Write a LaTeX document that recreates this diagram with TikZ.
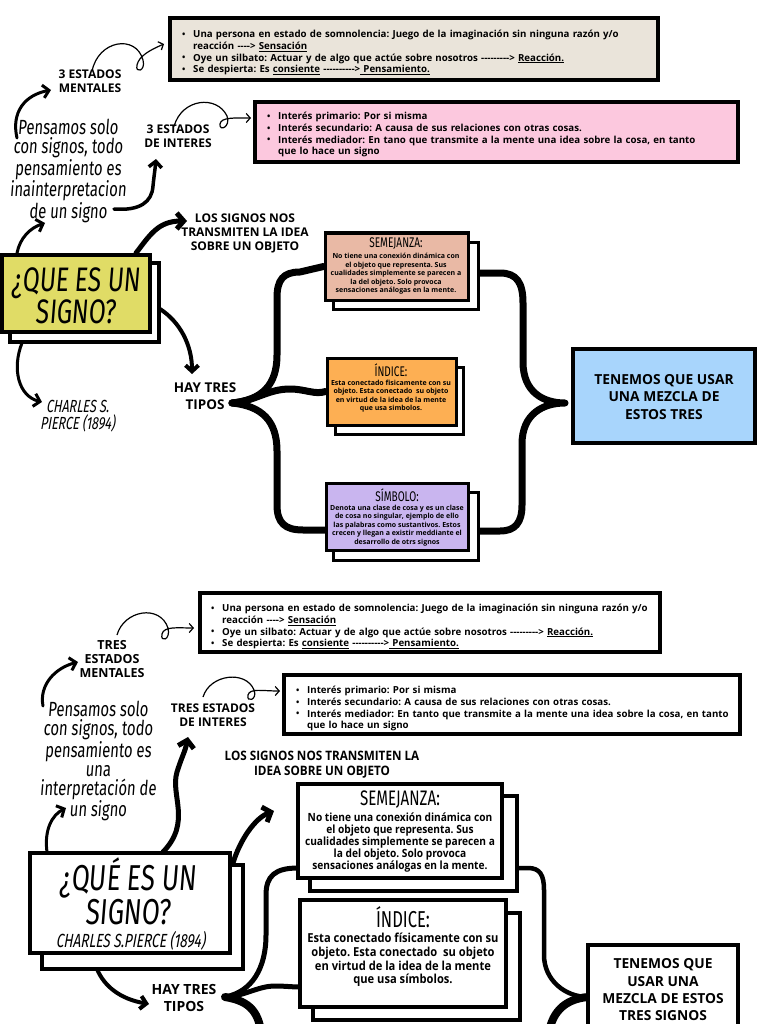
\documentclass[tikz,border=0pt]{standalone}
\usepackage{fontspec}
\setmainfont{Open Sans}
\newfontfamily\condfont[FakeStretch=0.9]{Open Sans}
\newfontfamily\hand[FakeStretch=0.72,FakeSlant=0.08]{Fira Sans}
\newfontfamily\handup[FakeStretch=0.72]{Fira Sans}
\usetikzlibrary{arrows.meta,calc}
\pgfdeclarelayer{bg}
\pgfsetlayers{bg,main}
\definecolor{beige}{HTML}{EAE4DA}
\definecolor{pinkc}{HTML}{FCC8DE}
\definecolor{yellowc}{HTML}{E0DC66}
\definecolor{salmon}{HTML}{E9B9A5}
\definecolor{orangec}{HTML}{FDAF53}
\definecolor{lavender}{HTML}{C9B5EF}
\definecolor{bluec}{HTML}{A8D5FC}
\newcommand\blt[1]{\par\noindent\makebox[11pt][l]{\raisebox{0.05ex}{\scalebox{0.9}{\textbullet}}}#1}
\newcommand\cnt[1]{\par\noindent\hspace*{11pt}#1}
\newcommand\hh{\mbox{-}}
\frenchspacing
\begin{document}
\begin{tikzpicture}[x=1pt,y=-1pt,
  box/.style={draw, line width=3pt, inner sep=0pt},
  bigbox/.style={draw, line width=4pt, inner sep=0pt},
  listtxt/.style={font=\frenchspacing\fontsize{9.7}{11.8}\selectfont\bfseries, text width=560pt, align=left, inner sep=0pt, anchor=west},
  lbl/.style={font=\frenchspacing\fontsize{12}{14}\selectfont\bfseries, align=center, inner sep=0pt},
  handtxt/.style={font=\hand\fontsize{20.5}{19}\selectfont, align=center, inner sep=0pt},
  ttl/.style={font=\handup\fontsize{14}{14}\selectfont, inner sep=0pt},
  body/.style={font=\frenchspacing\fontsize{7}{8.5}\selectfont\bfseries, align=center, inner sep=0pt},
  cbody/.style={font=\frenchspacing\condfont\fontsize{11.3}{12}\selectfont\bfseries, align=center, inner sep=0pt},
  arr/.style={line width=3pt, line cap=round, -{Straight Barb[length=6pt,width=13pt]}},
  thickarr/.style={line width=5pt, line cap=round, -{Straight Barb[length=7pt,width=16pt]}},
  looparr/.style={line width=1.2pt, -{Straight Barb[length=4pt,width=9pt]}},
  brace/.style={line width=7pt, line cap=round, line join=round},
]
\useasboundingbox (0,0) rectangle (768,1024);
\clip (0,0) rectangle (768,1024);

% ================= TOP HALF =================
\node[bigbox, fill=beige, minimum width=488pt, minimum height=62pt] (topbox) at (414,49) {};
\node[listtxt] (toptxt) at (182,50.5) {%
\blt{Una persona en estado de somnolencia: Juego de la imaginación sin ninguna razón y/o}
\cnt{reacción \hh\hh\hh\hh> \underline{Sensación}}
\blt{Oye un silbato: Actuar y de algo que actúe sobre nosotros \hh\hh\hh\hh\hh\hh\hh\hh\hh> \underline{Reacción.}}
\blt{Se despierta: Es \underline{consiente} \hh\hh\hh\hh\hh\hh\hh\hh\hh\hh>\underline{ Pensamiento.}}};

\node[bigbox, fill=pinkc, minimum width=483pt, minimum height=60pt] (pinkbox) at (496.5,132) {};
\node[listtxt] (pinktxt) at (267,132.5) {%
\blt{Interés primario: Por si misma}
\blt{Interés secundario: A causa de sus relaciones con otras cosas.}
\blt{Interés mediador: En tano que transmite a la mente una idea sobre la cosa, en tanto}
\cnt{que lo hace un signo}};

\node[lbl] (mentales) at (90,81) {3 ESTADOS\\MENTALES};
\node[lbl] (interes) at (178,136) {3 ESTADOS\\DE INTERES};
\node[handtxt] (pensamos) at (68,171) {Pensamos solo\\con signos, todo\\pensamiento es\\inainterpretacion\\de un signo};

\node[bigbox, fill=white, minimum width=149pt, minimum height=79pt] (signosh) at (84.5,302.5) {};
\node[bigbox, fill=yellowc, minimum width=148pt, minimum height=77pt] (signo) at (76,293.5) {};
\node[font=\hand\fontsize{34}{31}\selectfont, align=center, inner sep=0pt] (signotxt) at (76,296) {¿QUE ES UN\\SIGNO?};

\node[font=\hand\itshape\fontsize{17.5}{17.5}\selectfont, align=center, inner sep=0pt] (charles) at (78,416) {CHARLES S.\\PIERCE (1894)};
\node[lbl] (signos) at (245,233) {LOS SIGNOS NOS\\TRANSMITEN LA IDEA\\SOBRE UN OBJETO};
\node[font=\frenchspacing\fontsize{13.5}{17}\selectfont\bfseries, align=center, inner sep=0pt] (tipos) at (205,396) {HAY TRES\\TIPOS};

\node[box, fill=white, minimum width=145pt, minimum height=67pt] (semsh) at (405.5,275.5) {};
\node[box, fill=salmon, minimum width=143pt, minimum height=67pt] (sem) at (396.5,266.5) {};
\node[ttl] (semt) at (396,243.5) {SEMEJANZA:};
\node[body] (semb) at (396,274) {No tiene una conexión dinámica con\\el objeto que representa. Sus\\cualidades simplemente se parecen a\\la del objeto. Solo provoca\\sensaciones análogas en la mente.};

\node[box, fill=white, minimum width=128pt, minimum height=67pt] (indsh) at (399,400.5) {};
\node[box, fill=orangec, minimum width=129pt, minimum height=67pt] (ind) at (391.5,391.5) {};
\node[ttl] (indt) at (391,370) {ÍNDICE:};
\node[body] (indb) at (391,396) {Esta conectado fisicamente con su\\objeto. Esta conectado\ \ su objeto\\en virtud de la idea de la mente\\que usa simbolos.};

\node[box, fill=white, minimum width=145pt, minimum height=68pt] (simsh) at (405.5,526) {};
\node[box, fill=lavender, minimum width=142pt, minimum height=67pt] (sim) at (397,516.5) {};
\node[ttl] (simt) at (397,495) {SÍMBOLO:};
\node[body] (simb) at (397,525.5) {Denota una clase de cosa y es un clase\\de cosa no singular, ejemplo de ello\\las palabras como sustantivos. Estos\\crecen y llegan a existir meddiante el\\desarrollo de otrs signos};

\node[bigbox, fill=bluec, minimum width=182pt, minimum height=94pt] (blue) at (664,396) {};
\node[font=\frenchspacing\fontsize{13.8}{17.5}\selectfont\bfseries, align=center, inner sep=0pt] (bluetxt) at (664,397) {TENEMOS QUE USAR\\UNA MEZCLA DE\\ESTOS TRES};

% ================= BOTTOM HALF =================
\node[bigbox, fill=white, minimum width=460pt, minimum height=59pt] (box1) at (430,622.5) {};
\node[listtxt] (box1txt) at (211,624.5) {%
\blt{Una persona en estado de somnolencia: Juego de la imaginación sin ninguna razón y/o}
\cnt{reacción \hh\hh\hh\hh> \underline{Sensación}}
\blt{Oye un silbato: Actuar y de algo que actúe sobre nosotros \hh\hh\hh\hh\hh\hh\hh\hh\hh> \underline{Reacción.}}
\blt{Se despierta: Es \underline{consiente} \hh\hh\hh\hh\hh\hh\hh\hh\hh\hh>\underline{ Pensamiento.}}};

\node[bigbox, fill=white, minimum width=456pt, minimum height=59pt] (box2) at (512,704.5) {};
\node[listtxt] (box2txt) at (296,706.5) {%
\blt{Interés primario: Por si misma}
\blt{Interés secundario: A causa de sus relaciones con otras cosas.}
\blt{Interés mediador: En tanto que transmite a la mente una idea sobre la cosa, en tanto}
\cnt{que lo hace un signo}};

\node[lbl, font=\frenchspacing\fontsize{12.5}{14}\selectfont\bfseries] (mentales2) at (112,659) {TRES\\ESTADOS\\MENTALES};
\node[lbl] (interes2) at (213,715) {TRES ESTADOS\\DE INTERES};
\node[handtxt] (pensamos2) at (98,761) {Pensamos solo\\con signos, todo\\pensamiento es\\una\\interpretación de\\un signo};
\node[font=\frenchspacing\condfont\fontsize{13}{15}\selectfont\bfseries, align=center, inner sep=0pt] (signos2) at (322,765) {LOS SIGNOS NOS TRANSMITEN LA\\IDEA SOBRE UN OBJETO};

\node[bigbox, line width=4.5pt, fill=white, minimum width=201pt, minimum height=104pt] (qsh) at (142.5,917) {};
\node[bigbox, line width=4.5pt, fill=white, minimum width=200pt, minimum height=100pt] (qbox) at (130,903) {};
\node[font=\hand\fontsize{36}{31}\selectfont, align=center, inner sep=0pt] (qtxt) at (128,891) {¿QUÉ ES UN\\SIGNO?};
\node[font=\hand\itshape\fontsize{19}{19}\selectfont, inner sep=0pt] (charles2) at (131,941) {CHARLES S.PIERCE (1894)};
\node[font=\frenchspacing\fontsize{14}{16.5}\selectfont\bfseries, align=center, inner sep=0pt] (tipos2) at (184,998) {HAY TRES\\TIPOS};

\node[bigbox, line width=4.5pt, fill=white, minimum width=207pt, minimum height=95pt] (sem2sh) at (413.5,843.5) {};
\node[bigbox, line width=4.5pt, fill=white, minimum width=204pt, minimum height=94pt] (sem2) at (400,831) {};
\node[font=\handup\fontsize{21}{21}\selectfont, inner sep=0pt] (sem2t) at (400,800) {SEMEJANZA:};
\node[cbody] (sem2b) at (400,843) {No tiene una conexión dinámica con\\el objeto que representa. Sus\\cualidades simplemente se parecen a\\la del objeto. Solo provoca\\sensaciones análogas en la mente.};

\node[bigbox, line width=4.5pt, fill=white, minimum width=207pt, minimum height=107pt] (ind2sh) at (416.5,966.5) {};
\node[bigbox, line width=4.5pt, fill=white, minimum width=206pt, minimum height=107pt] (ind2) at (403,953.5) {};
\node[font=\handup\fontsize{23}{23}\selectfont, inner sep=0pt] (ind2t) at (403,917) {ÍNDICE:};
\node[cbody, font=\frenchspacing\condfont\fontsize{12.4}{13.7}\selectfont\bfseries] (ind2b) at (403,960) {Esta conectado físicamente con su\\objeto. Esta conectado\ \ su objeto\\en virtud de la idea de la mente\\que usa símbolos.};

\node[bigbox, line width=4.5pt, fill=white, minimum width=150pt, minimum height=100pt] (final) at (663,995) {};
\node[font=\frenchspacing\fontsize{13.8}{17.3}\selectfont\bfseries, align=center, inner sep=0pt] (finaltxt) at (663,990) {TENEMOS QUE\\USAR UNA\\MEZCLA DE ESTOS\\TRES SIGNOS};

% ================= CONNECTORS (behind) =================
\begin{pgfonlayer}{bg}
\fill[white] (0,0) rectangle (768,1024);
% top
\draw[looparr] ($(mentales.north)+(2,2)$) .. controls (98,40) and (136,34) .. (143,60) .. controls (146,71) and (135,74) .. (137,65) .. controls (139,56) and (150,50) .. (164,44);
\draw[looparr] ($(interes.north)+(-4,2)$) .. controls (182,98) and (217,95) .. (227,116) .. controls (231,127) and (219,132) .. (220,124) .. controls (221,117) and (235,118) .. (251,118);
\draw[arr] (17,138) .. controls (11,112) and (25,95) .. (51,90);
\draw[arr, line width=3.5pt] (114,209) .. controls (140,211) and (152,202) .. (153,186) .. controls (154,176) and (155,170) .. (156,159);
\draw[arr] (17,253) .. controls (20,238) and (30,228) .. (45,223);
\draw[thickarr] (136,253) .. controls (150,235) and (158,221) .. (187,221);
\draw[arr, line width=4pt] (160,309) .. controls (180,322) and (192,345) .. (192,374);
\draw[arr] (22,343) .. controls (12,368) and (18,396) .. (42,402);
% top braces
\draw[brace] (232,403) .. controls (262,400) and (277,385) .. (277,355) -- (277,298) .. controls (277,280) and (283,272) .. (300,272) -- (sem.west);
\draw[brace] (232,403) .. controls (255,401) and (268,389) .. (290,389) .. controls (305,389) and (315,395) .. (ind.west);
\draw[brace] (232,403) .. controls (262,406) and (277,421) .. (277,451) -- (277,505) .. controls (277,523) and (285,530) .. (303,530) -- (326,530);
\draw[brace] (476,273) -- (500,273) .. controls (517,273) and (523,283) .. (523,303) -- (523,362) .. controls (523,392) and (543,403) .. (565,403) .. controls (543,403) and (522,414) .. (522,444) -- (522,505) .. controls (522,523) and (515,531) .. (500,531) -- (476,531);
% bottom
\draw[looparr] (117,635) .. controls (124,610) and (160,604) .. (168,628) .. controls (171,640) and (160,643) .. (162,634) .. controls (164,626) and (178,628) .. (194,628);
\draw[looparr] (203,697) .. controls (210,674) and (246,670) .. (254,690) .. controls (258,700) and (246,703) .. (248,695) .. controls (250,688) and (262,691) .. (280,691);
\draw[arr] (43,706) .. controls (39,685) and (55,668) .. (78,662);
\draw[arr] (47,852) .. controls (44,830) and (52,815) .. (66,808);
\draw[thickarr] (163,852) .. controls (192,822) and (170,795) .. (177,772) .. controls (182,756) and (185,752) .. (188,737);
\draw[thickarr] (233,863) .. controls (240,840) and (255,818) .. (274,811);
\draw[arr, line width=4pt] (97,969) .. controls (104,986) and (120,999) .. (149,1004);
% bottom braces
\draw[brace, line width=5pt] (225,997) .. controls (252,992) and (266,968) .. (266,935) -- (266,895) .. controls (266,876) and (275,868) .. (298,868);
\draw[brace, line width=5pt] (225,997) .. controls (245,996) and (258,986) .. (275,986) .. controls (285,986) and (292,987) .. (300,987);
\draw[brace, line width=8pt] (225,997) .. controls (250,1001) and (260,1012) .. (262,1040);
\draw[brace, line width=4.5pt] (515,868) -- (528,868) .. controls (540,868) and (544,875) .. (544,890) -- (544,955) .. controls (544,980) and (565,997) .. (588,997);
\draw[brace, line width=8pt] (588,997) .. controls (565,999) and (550,1012) .. (548,1040);
\end{pgfonlayer}
\end{tikzpicture}
\end{document}
